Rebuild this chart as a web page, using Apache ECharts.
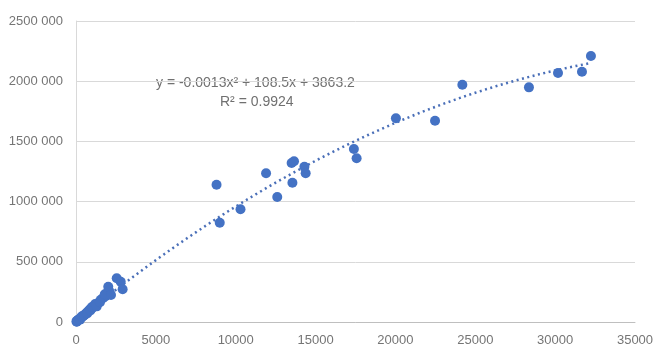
<!DOCTYPE html>
<html>
<head>
<meta charset="utf-8">
<script src="https://cdn.jsdelivr.net/npm/echarts@6/dist/echarts.min.js"></script>
<style>
html,body{margin:0;padding:0;background:#fff;}
#chart{width:659px;height:359px;}
</style>
</head>
<body>
<div id="chart"></div>
<script>
// Scatter data: [x, y]
const xValues = [30, 80, 150, 220, 300, 380, 460, 540, 620, 700, 800, 900, 1000, 1100, 1250, 1400, 1550, 1700, 1850, 1950, 2100,
  50, 100, 250, 350, 500, 700, 900, 1000, 1200, 1300, 1500, 1800,
  2020, 2190, 2550, 2800, 2920,
  8800, 9000, 10300, 11900, 12600, 13500, 13650, 13550, 14300, 14380,
  17400, 17570, 20030, 22480, 24190, 28360, 30180, 31680, 32240];
const yValues = [5000, 10000, 18000, 25000, 33000, 42000, 52000, 60000, 70000, 80000, 95000, 108000, 115000, 125000, 140000, 160000, 185000, 200000, 215000, 240000, 250000,
  2000, 15000, 20000, 45000, 55000, 70000, 95000, 125000, 150000, 130000, 165000, 230000,
  293000, 224000, 363000, 335000, 272000,
  1140000, 825000, 936000, 1235000, 1038000, 1320000, 1335000, 1157000, 1290000, 1235000,
  1437000, 1360000, 1692000, 1672000, 1971000, 1949000, 2068000, 2079000, 2209000];

// Trendline coefficients, as printed on the chart: y = a x^2 + b x + c
const trendCoef = [-0.0013, 108.5, 3863.2];
const equationText = 'y = -0.0013x² + 108.5x + 3863.2';
const r2Text = 'R² = 0.9924';

const xTickLabels = ['0', '5000', '10000', '15000', '20000', '25000', '30000', '35000'];
const yTickLabels = ['0', '500 000', '1000 000', '1500 000', '2000 000', '2500 000'];

const scatterData = xValues.map((x, i) => [x, yValues[i]]);
const xMax = Math.max(...xValues);
const trendData = [];
for (let x = 0; x <= xMax; x += 250) {
  trendData.push([x, trendCoef[0] * x * x + trendCoef[1] * x + trendCoef[2]]);
}
trendData.push([xMax, trendCoef[0] * xMax * xMax + trendCoef[1] * xMax + trendCoef[2]]);

const chart = echarts.init(document.getElementById('chart'), null, {renderer: 'canvas'});
const labelFont = {color: '#757575', fontSize: 13, fontFamily: 'Liberation Sans, Arial, sans-serif'};
chart.setOption({
  animation: false,
  backgroundColor: '#ffffff',
  grid: {left: 76, right: 24, top: 21, bottom: 37, containLabel: false},
  xAxis: {
    type: 'value', min: 0, max: 35000, interval: 5000,
    axisLine: {show: true, lineStyle: {color: '#bfbfbf', width: 1}},
    axisTick: {show: false},
    splitLine: {show: false},
    axisLabel: Object.assign({margin: 12, formatter: (v) => xTickLabels[Math.round(v / 5000)]}, labelFont)
  },
  yAxis: {
    type: 'value', min: 0, max: 2500000, interval: 500000,
    axisLine: {show: true, lineStyle: {color: '#d9d9d9', width: 1}},
    axisTick: {show: false},
    splitLine: {show: true, lineStyle: {color: '#d9d9d9', width: 1}},
    axisLabel: Object.assign({margin: 13, formatter: (v) => yTickLabels[Math.round(v / 500000)]}, labelFont)
  },
  series: [
    {
      type: 'line', data: trendData, showSymbol: false, symbol: 'none', z: 1,
      lineStyle: {color: '#4a6fb8', width: 2.5, type: [2, 3.5]}
    },
    {
      type: 'scatter', data: scatterData, symbolSize: 10, z: 2,
      itemStyle: {color: '#4472c4', opacity: 1}
    }
  ],
  graphic: [
    {type: 'text', left: 156, top: 76, style: {text: equationText, fill: '#707070', fontSize: 14, fontFamily: 'Liberation Sans, Arial, sans-serif'}},
    {type: 'text', left: 220, top: 95, style: {text: r2Text, fill: '#707070', fontSize: 14, fontFamily: 'Liberation Sans, Arial, sans-serif'}}
  ]
});
</script>
</body>
</html>
